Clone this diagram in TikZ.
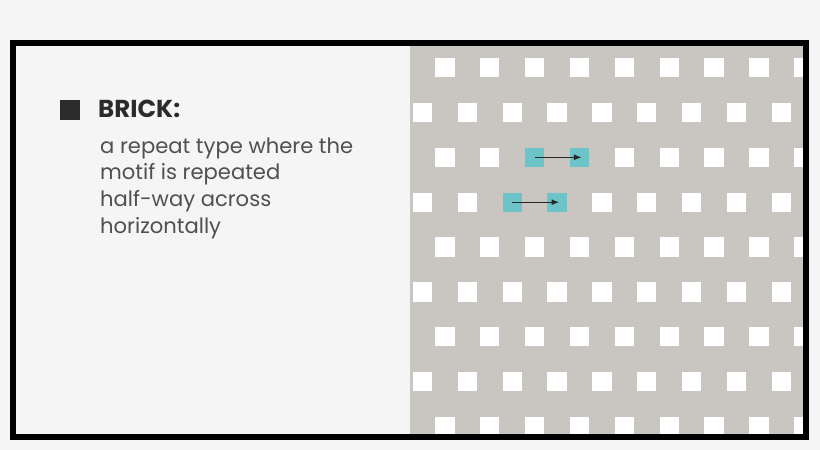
\documentclass[tikz,border=0pt]{standalone}
\usepackage{fontspec}
\setmainfont{Poppins}
\usetikzlibrary{arrows.meta}
\definecolor{pagebg}{HTML}{F5F5F5}
\definecolor{brickbg}{HTML}{C9C5C0}
\definecolor{motif}{HTML}{6CC4C9}
\definecolor{bodygray}{HTML}{505050}
\definecolor{titlegray}{HTML}{2B2B2B}
\begin{document}
\begin{tikzpicture}[x=1pt,y=-1pt]
      \useasboundingbox (0,0) rectangle (820,450);
      \fill[pagebg] (0,0) rectangle (820,450);
      \begin{scope}
        \fill[brickbg] (410,43) rectangle (806,437);
        \clip (410,46.7) rectangle (803.3,433.3);
        \begin{scope}[every node/.style={fill=white,inner sep=0pt,minimum size=19.3pt,anchor=north west}]
          \foreach \r in {0,...,8} {
            \pgfmathsetmacro{\xo}{ifthenelse(mod(\r,2)==0,435,412.6)}
            \foreach \c in {0,...,9} {
              \node (s\r\c) at ({\xo+44.875*\c},{57.7+44.875*\r}) {};
            }
          }
        \end{scope}
        \begin{scope}[every node/.style={fill=motif,inner sep=0pt,minimum size=19.3pt,anchor=north west}]
          \node (a) at (s22.north west) {};
          \node (b) at (s23.north west) {};
          \node (c) at (s32.north west) {};
          \node (d) at (s33.north west) {};
        \end{scope}
        \begin{scope}[every edge/.style={draw=black!85,line width=1pt,-{Latex[length=7.5pt,width=6pt]},shorten >=-2pt}]
          \path (a.center) edge (b.center)
                (c.center) edge (d.center);
        \end{scope}
      \end{scope}
      \draw[line width=6pt] (13,43.3) rectangle (806,437);
      \node[fill=titlegray,inner sep=0pt,minimum size=20pt] (bullet) at (70,110) {};
      \node[anchor=base west,inner sep=0pt,text=titlegray,font=\bfseries\fontsize{24.5}{28}\selectfont] (title) at (98,117.3) {BRICK:};
      \node[anchor=base west,inner sep=0pt,align=left,text=bodygray,font=\fontsize{21.1}{26.7}\selectfont] (body) at (100,233.3)
        {a repeat type where the\\motif is repeated\\half-way across\\horizontally};
    \end{tikzpicture}
\end{document}
